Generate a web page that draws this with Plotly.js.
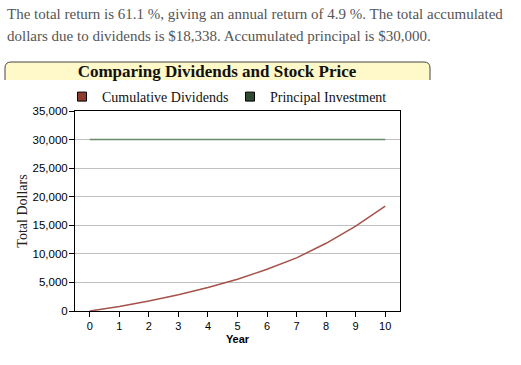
<!DOCTYPE html>
<html>
<head>
<meta charset="utf-8">
<script src="https://cdn.plot.ly/plotly-3.0.1.min.js"></script>
<style>html,body{margin:0;padding:0;background:#fff;}#chart{width:521px;height:365px;}</style>
</head>
<body>
<div id="chart"></div>
<script>
// ---- data ----
const years = [0, 1, 2, 3, 4, 5, 6, 7, 8, 9, 10];
const cumulativeDividends = [0, 780, 1750, 2850, 4100, 5550, 7300, 9300, 11850, 14850, 18338];
const principalInvestment = [30000, 30000, 30000, 30000, 30000, 30000, 30000, 30000, 30000, 30000, 30000];
const seriesNames = ["Cumulative Dividends", "Principal Investment"];
const yTickVals = [0, 5000, 10000, 15000, 20000, 25000, 30000, 35000];
const yTickText = ["0", "5,000", "10,000", "15,000", "20,000", "25,000", "30,000", "35,000"];
const summaryLine1 = "The total return is 61.1 %, giving an annual return of 4.9 %. The total accumulated";
const summaryLine2 = "dollars due to dividends is $18,338. Accumulated principal is $30,000.";

// ---- layout helpers (pixel -> paper) ----
const W = 521, H = 365;
const M = {l: 75, r: 121, t: 111, b: 54};
const PW = W - M.l - M.r, PH = H - M.t - M.b;
const px = x => (x - M.l) / PW;
const py = y => (H - M.b - y) / PH;

const serif = "Liberation Serif, DejaVu Serif, serif";
const sans = "Liberation Sans, Arial, sans-serif";

const divLine = "#a5524a", prinLine = "#688a68";
const divSwatch = "#8e3a2c", prinSwatch = "#2f4b30";

const traces = [
  {x: years, y: cumulativeDividends, type: "scatter", mode: "lines", name: seriesNames[0],
   line: {color: divLine, width: 1.5}, showlegend: false, hoverinfo: "x+y"},
  {x: years, y: principalInvestment, type: "scatter", mode: "lines", name: seriesNames[1],
   line: {color: prinLine, width: 1.5}, showlegend: false, hoverinfo: "x+y"},
  {x: [null], y: [null], type: "scatter", mode: "markers", name: seriesNames[0],
   marker: {symbol: "square", size: 9, color: divSwatch, line: {color: "#000", width: 1}}},
  {x: [null], y: [null], type: "scatter", mode: "markers", name: seriesNames[1],
   marker: {symbol: "square", size: 9, color: prinSwatch, line: {color: "#000", width: 1}}}
];

const boxPath = `M ${px(5)},${py(80)} L ${px(5)},${py(68)} Q ${px(5)},${py(62)} ${px(11)},${py(62)} ` +
  `L ${px(424)},${py(62)} Q ${px(430)},${py(62)} ${px(430)},${py(68)} L ${px(430)},${py(80)}`;

const layout = {
  width: W, height: H,
  margin: M,
  paper_bgcolor: "#fff", plot_bgcolor: "#fff",
  showlegend: true,
  title: {text: "<b>Comparing Dividends and Stock Price</b>", font: {family: serif, size: 17, color: "#111"},
    x: 217 / W, xref: "container", xanchor: "center", y: 1 - 71 / H, yref: "container", yanchor: "middle"},
  legend: {orientation: "h", x: px(62), xanchor: "left", y: py(97), yanchor: "middle",
    font: {family: serif, size: 14, color: "#111"}, bgcolor: "rgba(0,0,0,0)",
    entrywidth: 123, entrywidthmode: "pixels"},
  xaxis: {range: [-0.5, 10.5], tickvals: years, ticktext: years.map(String),
    showline: true, linecolor: "#000", linewidth: 1, mirror: true,
    ticks: "outside", ticklen: 5, tickcolor: "#000", showgrid: false, zeroline: false,
    tickfont: {family: sans, size: 11, color: "#000"},
    title: {text: "<b>Year</b>", font: {family: sans, size: 11, color: "#000"}, standoff: 4}},
  yaxis: {range: [0, 35000], tickvals: yTickVals, ticktext: yTickText,
    showline: true, linecolor: "#000", linewidth: 1, mirror: true,
    ticks: "outside", ticklen: 5, tickcolor: "#000", showgrid: true, gridcolor: "#c0c0c0", gridwidth: 1,
    zeroline: false, ticklabelstandoff: -1, tickfont: {family: sans, size: 11.5, color: "#000"},
    title: {text: "Total Dollars", font: {family: serif, size: 14, color: "#222"}, standoff: 1}},
  shapes: [
    {type: "path", xref: "paper", yref: "paper", path: boxPath, fillcolor: "#fff8c8",
     line: {color: "#444", width: 1}, layer: "below"}
  ],
  annotations: [
    {text: summaryLine1, xref: "paper", yref: "paper", x: px(5), y: py(14), xanchor: "left", yanchor: "middle",
     showarrow: false, font: {family: serif, size: 15, color: "#555"}},
    {text: summaryLine2, xref: "paper", yref: "paper", x: px(5), y: py(36), xanchor: "left", yanchor: "middle",
     showarrow: false, font: {family: serif, size: 15, color: "#555"}}
  ]
};

Plotly.newPlot("chart", traces, layout, {displayModeBar: false, staticPlot: true});
</script>
</body>
</html>
